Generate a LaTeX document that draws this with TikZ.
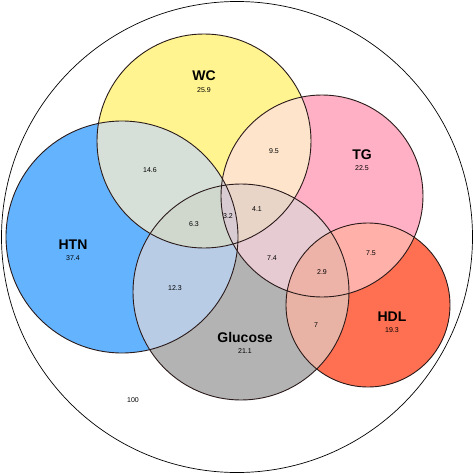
\documentclass[tikz,border=0pt]{standalone}
\usepackage{fontspec}
\setmainfont{Liberation Sans}
\definecolor{cWC}{HTML}{FFF48F}
\definecolor{cHTN}{HTML}{63B3FF}
\definecolor{cTG}{HTML}{FFB0C4}
\definecolor{cHDL}{HTML}{FF6F51}
\definecolor{cGlu}{HTML}{B3B3B3}
\definecolor{cHW}{HTML}{D6E0D8}
\definecolor{cWT}{HTML}{FDE4CA}
\definecolor{cHG}{HTML}{B8CCE6}
\definecolor{cHWG}{HTML}{D0D8CE}
\definecolor{cAll}{HTML}{D8CCD2}
\definecolor{cWTG}{HTML}{E8D5C8}
\definecolor{cTGl}{HTML}{E6CBD3}
\definecolor{cTH}{HTML}{FFB0A8}
\definecolor{cTHG}{HTML}{EDB3A8}
\definecolor{cHDG}{HTML}{E8B3A5}
\definecolor{cHT}{HTML}{D8D0D4}
\definecolor{edge}{HTML}{2A1A1A}
\tikzset{
  setname/.style={font=\bfseries\fontsize{14}{16}\selectfont},
  val/.style={font=\fontsize{7}{8}\selectfont},
  rim/.style={draw=edge,line width=0.9pt}
}
\def\cWCp{(204,141) circle (107)}
\def\cHTNp{(122,237) circle (116)}
\def\cTGp{(322,196) circle (101)}
\def\cGlup{(241,292) circle (108)}
\def\cHDLp{(368,305) circle (82)}
\begin{document}
\begin{tikzpicture}[x=1pt,y=-1pt]
\useasboundingbox (0,0) rectangle (474,474);
\fill[white] (0,0) rectangle (474,474);
\draw[line width=0.7pt] (237,237) circle (235.5);
% base fills
\fill[cHTN] \cHTNp;
\fill[cWC] \cWCp;
\fill[cTG] \cTGp;
\fill[cGlu] \cGlup;
\fill[cHDL] \cHDLp;
% pairwise
\begin{scope}\clip \cHTNp; \fill[cHW] \cWCp; \end{scope}
\begin{scope}\clip \cWCp; \fill[cWT] \cTGp; \end{scope}
\begin{scope}\clip \cHTNp; \fill[cHG] \cGlup; \end{scope}
\begin{scope}\clip \cTGp; \fill[cTGl] \cGlup; \end{scope}
\begin{scope}\clip \cTGp; \fill[cTH] \cHDLp; \end{scope}
\begin{scope}\clip \cHDLp; \fill[cHDG] \cGlup; \end{scope}
\begin{scope}\clip \cHTNp; \fill[cHT] \cTGp; \end{scope}
% triples
\begin{scope}\clip \cHTNp; \clip \cWCp; \fill[cHWG] \cGlup; \end{scope}
\begin{scope}\clip \cWCp; \clip \cTGp; \fill[cWTG] \cGlup; \end{scope}
\begin{scope}\clip \cTGp; \clip \cHDLp; \fill[cTHG] \cGlup; \end{scope}
\begin{scope}\clip \cHTNp; \clip \cTGp; \fill[cAll] \cGlup; \end{scope}
% quadruple
\begin{scope}\clip \cHTNp; \clip \cWCp; \clip \cTGp; \fill[cAll] \cGlup; \end{scope}
% outlines
\draw[rim] \cHTNp;
\draw[rim] \cWCp;
\draw[rim] \cTGp;
\draw[rim] \cGlup;
\draw[rim] \cHDLp;
% labels
\node[setname] (nWC) at (204,76) {WC};
\node[val] (vWC) at (204,90) {25.9};
\node[setname] (nTG) at (362,155) {TG};
\node[val] (vTG) at (362,168) {22.5};
\node[setname] (nHTN) at (73,245) {HTN};
\node[val] (vHTN) at (73,258) {37.4};
\node[setname] (nGlu) at (245,337) {Glucose};
\node[val] (vGlu) at (245,351) {21.1};
\node[setname] (nHDL) at (392,317) {HDL};
\node[val] (vHDL) at (392,330) {19.3};
\node[val] (v146) at (150,170) {14.6};
\node[val] (v95) at (274,151) {9.5};
\node[val] (v63) at (194,224) {6.3};
\node[val] (v32) at (228,216) {3.2};
\node[val] (v41) at (257,209) {4.1};
\node[val] (v123) at (175,288) {12.3};
\node[val] (v74) at (272,258) {7.4};
\node[val] (v29) at (322,272) {2.9};
\node[val] (v75) at (371,253) {7.5};
\node[val] (v7) at (316,325) {7};
\node[val] (v100) at (133,400) {100};
\end{tikzpicture}
\end{document}
